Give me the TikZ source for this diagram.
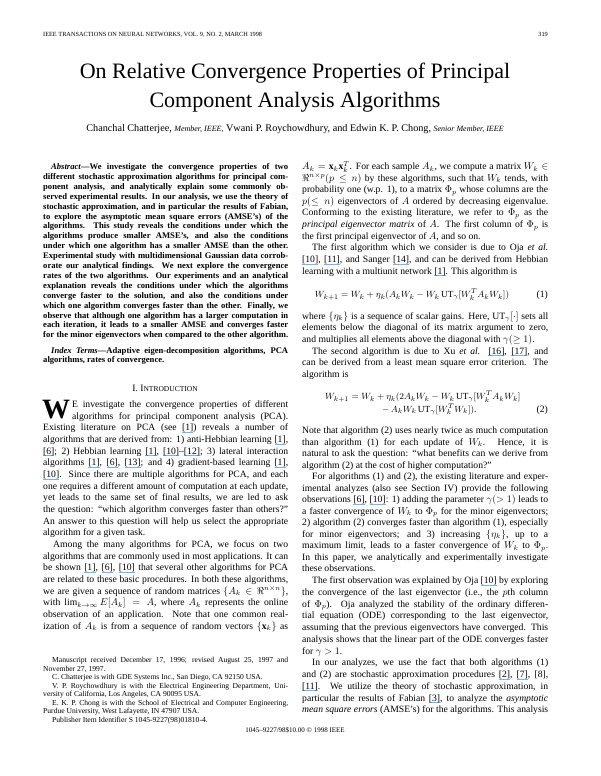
\documentclass[tikz,border=0pt]{standalone}
\usepackage{fontspec}
\setmainfont{Liberation Serif}
\usepackage{amssymb}
\definecolor{linkblue}{RGB}{120,180,235}
\newcommand\cit[1]{\setbox0\hbox{#1}\rlap{\textcolor{linkblue}{\rule[-2pt]{\wd0}{0.8pt}}}\box0\relax}
\newcommand\bodyf{\fontsize{9.65}{11}\selectfont}
\newcommand\eqf{\fontsize{9.3}{11}\selectfont}
\newcommand\absf{\fontsize{8.6}{10}\selectfont\bfseries}
\newcommand\footf{\fontsize{7.6}{9}\selectfont}
\newcounter{ln}
\tikzset{ln/.style={anchor=base west,inner sep=0pt,font=\bodyf}}
\newcommand\LJ[3][\bodyf]{\stepcounter{ln}\node[ln,font=#1] (t\arabic{ln}) at (43,#2+2.5) {\makebox[245pt][s]{#3}};}
\newcommand\LL[3][\bodyf]{\stepcounter{ln}\node[ln,font=#1] (t\arabic{ln}) at (43,#2+2.5) {#3};}
\newcommand\RJ[3][\bodyf]{\stepcounter{ln}\node[ln,font=#1] (t\arabic{ln}) at (302,#2+2.5) {\makebox[246pt][s]{#3}};}
\newcommand\RL[3][\bodyf]{\stepcounter{ln}\node[ln,font=#1] (t\arabic{ln}) at (302,#2+2.5) {#3};}
\begin{document}
\begin{tikzpicture}[x=1pt,y=-1pt]
\useasboundingbox (0,0) rectangle (600,776);
\fill[white] (0,0) rectangle (600,776);
% header
\node[anchor=base west,inner sep=0,font=\fontsize{6.3}{7}\selectfont] (hdr) at (43,37) {IEEE TRANSACTIONS ON NEURAL NETWORKS, VOL. 9, NO. 2, MARCH 1998};
\node[anchor=base east,inner sep=0,font=\fontsize{6.3}{7}\selectfont] (pg) at (548,37) {319};
% title
\node[anchor=base,inner sep=0,font=\fontsize{22}{26}\selectfont] (ti1) at (295,78) {On Relative Convergence Properties of Principal};
\node[anchor=base,inner sep=0,font=\fontsize{22}{26}\selectfont] (ti2) at (295,107) {Component Analysis Algorithms};
\node[anchor=base,inner sep=0,font=\fontsize{10.2}{12}\selectfont] (au) at (295,131) {Chanchal Chatterjee, {\fontsize{8}{10}\selectfont\itshape Member, IEEE,} Vwani P. Roychowdhury, and Edwin K. P. Chong, {\fontsize{8}{10}\selectfont\itshape Senior Member, IEEE}};
% abstract
\LJ[\absf]{167}{\hspace*{8pt}\textit{Abstract}—We investigate the convergence properties of two}
\LJ[\absf]{176.9}{different stochastic approximation algorithms for principal com-}
\LJ[\absf]{186.8}{ponent analysis, and analytically explain some commonly ob-}
\LJ[\absf]{196.7}{served experimental results. In our analysis, we use the theory of}
\LJ[\absf]{206.6}{stochastic approximation, and in particular the results of Fabian,}
\LJ[\absf]{216.5}{to explore the asymptotic mean square errors (AMSE's) of the}
\LJ[\absf]{226.4}{algorithms. This study reveals the conditions under which the}
\LJ[\absf]{236.3}{algorithms produce smaller AMSE's, and also the conditions}
\LJ[\absf]{246.2}{under which one algorithm has a smaller AMSE than the other.}
\LJ[\absf]{256.1}{Experimental study with multidimensional Gaussian data corrob-}
\LJ[\absf]{266}{orate our analytical findings. We next explore the convergence}
\LJ[\absf]{275.9}{rates of the two algorithms. Our experiments and an analytical}
\LJ[\absf]{285.8}{explanation reveals the conditions under which the algorithms}
\LJ[\absf]{295.7}{converge faster to the solution, and also the conditions under}
\LJ[\absf]{305.6}{which one algorithm converges faster than the other. Finally, we}
\LJ[\absf]{315.5}{observe that although one algorithm has a larger computation in}
\LJ[\absf]{325.4}{each iteration, it leads to a smaller AMSE and converges faster}
\LJ[\absf]{335.3}{for the minor eigenvectors when compared to the other algorithm.}
\LJ[\absf]{350.5}{\hspace*{8pt}\textit{Index Terms}—Adaptive eigen-decomposition algorithms, PCA}
\LL[\absf]{360.4}{algorithms, rates of convergence.}
% section
\node[anchor=base,inner sep=0,font=\bodyf] (sec) at (165,391) {I. I{\fontsize{7.5}{9}\selectfont NTRODUCTION}};
% intro
\node[anchor=base west,inner sep=0,font=\fontsize{28}{28}\selectfont\bfseries] (W) at (42,418.5) {W};
\stepcounter{ln}\node[ln] (t\arabic{ln}) at (72,407.5) {\makebox[216pt][s]{E investigate the convergence properties of different}};
\stepcounter{ln}\node[ln] (t\arabic{ln}) at (72,419.2) {\makebox[216pt][s]{algorithms for principal component analysis (PCA).}};
\LJ{428.3}{Existing literature on PCA (see \cit{[1]}) reveals a number of}
\LJ{440}{algorithms that are derived from: 1) anti-Hebbian learning \cit{[1]},}
\LJ{451.7}{\cit{[6]}; 2) Hebbian learning \cit{[1]}, \cit{[10]}–\cit{[12]}; 3) lateral interaction}
\LJ{463.3}{algorithms \cit{[1]}, \cit{[6]}, \cit{[13]}; and 4) gradient-based learning \cit{[1]},}
\LJ{475}{\cit{[10]}. Since there are multiple algorithms for PCA, and each}
\LJ{486.7}{one requires a different amount of computation at each update,}
\LJ{498.3}{yet leads to the same set of final results, we are led to ask}
\LJ{510}{the question: “which algorithm converges faster than others?”}
\LJ{521.7}{An answer to this question will help us select the appropriate}
\LL{533.3}{algorithm for a given task.}
\LJ{545}{\hspace*{10pt}Among the many algorithms for PCA, we focus on two}
\LJ{556.7}{algorithms that are commonly used in most applications. It can}
\LJ{568.3}{be shown \cit{[1]}, \cit{[6]}, \cit{[10]} that several other algorithms for PCA}
\LJ{580}{are related to these basic procedures. In both these algorithms,}
\LJ{591.7}{we are given a sequence of random matrices $\{A_k\in\Re^{n\times n}\}$,}
\LJ{603.3}{with $\lim_{k\to\infty}E[A_k]=A$, where $A_k$ represents the online}
\LJ{615}{observation of an application. Note that one common real-}
\LJ{626.7}{ization of $A_k$ is from a sequence of random vectors $\{\mathbf{x}_k\}$ as}
% footnotes
\LJ[\footf]{660}{\hspace*{9pt}Manuscript received December 17, 1996; revised August 25, 1997 and}
\LL[\footf]{668.5}{November 27, 1997.}
\LL[\footf]{677}{\hspace*{9pt}C. Chatterjee is with GDE Systems Inc., San Diego, CA 92150 USA.}
\LJ[\footf]{685.5}{\hspace*{9pt}V. P. Roychowdhury is with the Electrical Engineering Department, Uni-}
\LL[\footf]{694}{versity of California, Los Angeles, CA 90095 USA.}
\LJ[\footf]{702.5}{\hspace*{9pt}E. K. P. Chong is with the School of Electrical and Computer Engineering,}
\LL[\footf]{711}{Purdue University, West Lafayette, IN 47907 USA.}
\LL[\footf]{719.5}{\hspace*{9pt}Publisher Item Identifier S 1045-9227(98)01810-4.}
% right column
\RJ{167.3}{$A_k=\mathbf{x}_k\smash{\mathbf{x}_k^T}$. For each sample $A_k$, we compute a matrix $W_k\in$}
\RJ{178.7}{$\smash{\Re^{n\times p}}(p\le n)$ by these algorithms, such that $W_k$ tends, with}
\RJ{190}{probability one (w.p. 1), to a matrix $\Phi_p$ whose columns are the}
\RJ{201.7}{$p(\le n)$ eigenvectors of $A$ ordered by decreasing eigenvalue.}
\RJ{213.3}{Conforming to the existing literature, we refer to $\Phi_p$ as the}
\RJ{225}{\textit{principal eigenvector matrix} of $A$. The first column of $\Phi_p$ is}
\RL{236.7}{the first principal eigenvector of $A$, and so on.}
\RJ{248.3}{\hspace*{10pt}The first algorithm which we consider is due to Oja \textit{et al.}}
\RJ{260}{\cit{[10]}, \cit{[11]}, and Sanger \cit{[14]}, and can be derived from Hebbian}
\RL{271.7}{learning with a multiunit network \cit{[1]}. This algorithm is}
\node[anchor=base,inner sep=0,font=\eqf] (eq1) at (412,297.5) {$W_{k+1}=W_k+\eta_k(A_kW_k-W_k\,\mathrm{UT}_\gamma[W_k^TA_kW_k])$};
\node[anchor=base east,inner sep=0,font=\bodyf] (n1) at (548,297.5) {(1)};
\RJ{316.7}{where $\{\eta_k\}$ is a sequence of scalar gains. Here, $\mathrm{UT}_\gamma[\cdot]$ sets all}
\RJ{328.3}{elements below the diagonal of its matrix argument to zero,}
\RL{340}{and multiplies all elements above the diagonal with $\gamma(\ge 1)$.}
\RJ{351.7}{\hspace*{10pt}The second algorithm is due to Xu \textit{et al.} \cit{[16]}, \cit{[17]}, and}
\RJ{363.3}{can be derived from a least mean square error criterion. The}
\RL{375}{algorithm is}
\node[anchor=base west,inner sep=0,font=\eqf] (eq2a) at (325,399.5) {$W_{k+1}=W_k+\eta_k(2A_kW_k-W_k\,\mathrm{UT}_\gamma[W_k^TA_kW_k]$};
\node[anchor=base west,inner sep=0,font=\eqf] (eq2b) at (382,412) {$-\,A_kW_k\,\mathrm{UT}_\gamma[W_k^TW_k])$.};
\node[anchor=base east,inner sep=0,font=\bodyf] (n2) at (548,412) {(2)};
\RJ{431}{Note that algorithm (2) uses nearly twice as much computation}
\RJ{442.5}{than algorithm (1) for each update of $W_k$. Hence, it is}
\RJ{454}{natural to ask the question: “what benefits can we derive from}
\RL{465.5}{algorithm (2) at the cost of higher computation?”}
\RJ{477}{\hspace*{10pt}For algorithms (1) and (2), the existing literature and exper-}
\RJ{488.5}{imental analyzes (also see Section IV) provide the following}
\RJ{500}{observations \cit{[6]}, \cit{[10]}: 1) adding the parameter $\gamma(>1)$ leads to}
\RJ{511.5}{a faster convergence of $W_k$ to $\Phi_p$ for the minor eigenvectors;}
\RJ{523}{2) algorithm (2) converges faster than algorithm (1), especially}
\RJ{534.5}{for minor eigenvectors; and 3) increasing $\{\eta_k\}$, up to a}
\RJ{546}{maximum limit, leads to a faster convergence of $W_k$ to $\Phi_p$.}
\RJ{557.5}{In this paper, we analytically and experimentally investigate}
\RL{569.2}{these observations.}
\RJ{581}{\hspace*{10pt}The first observation was explained by Oja \cit{[10]} by exploring}
\RJ{592.7}{the convergence of the last eigenvector (i.e., the $p$th column}
\RJ{604.5}{of $\Phi_p$). Oja analyzed the stability of the ordinary differen-}
\RJ{616.2}{tial equation (ODE) corresponding to the last eigenvector,}
\RJ{628}{assuming that the previous eigenvectors have converged. This}
\RJ{639.7}{analysis shows that the linear part of the ODE converges faster}
\RL{651.5}{for $\gamma>1$.}
\RJ{663.2}{\hspace*{10pt}In our analyzes, we use the fact that both algorithms (1)}
\RJ{675}{and (2) are stochastic approximation procedures \cit{[2]}, \cit{[7]}, [8],}
\RJ{686.7}{\cit{[11]}. We utilize the theory of stochastic approximation, in}
\RJ{698.5}{particular the results of Fabian \cit{[3]}, to analyze the \textit{asymptotic}}
\RJ{710.2}{\textit{mean square errors} (AMSE's) for the algorithms. This analysis}
% bottom
\node[anchor=base,inner sep=0,font=\fontsize{7}{8}\selectfont] (cr) at (295,732) {1045–9227/98\$10.00 © 1998 IEEE};
\end{tikzpicture}
\end{document}
